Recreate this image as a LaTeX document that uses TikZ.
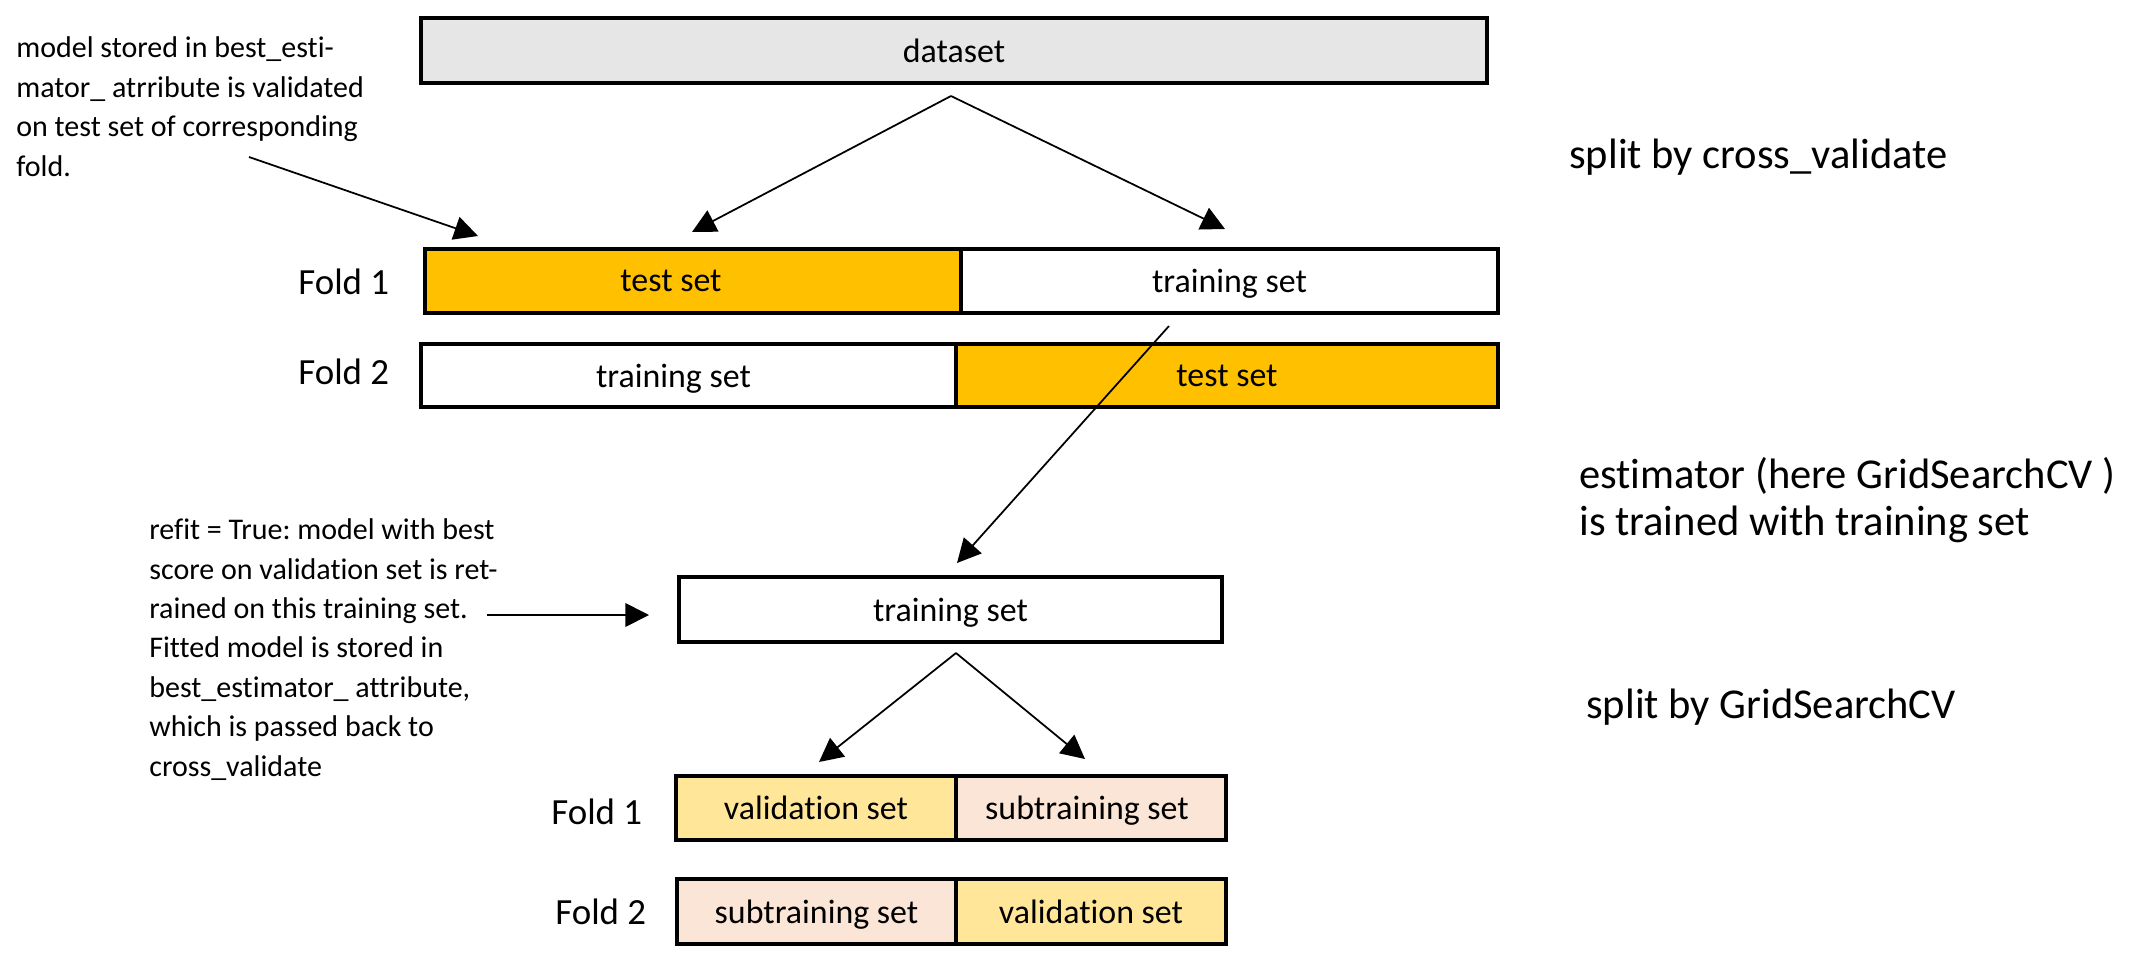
\documentclass[tikz,border=0pt]{standalone}
\usepackage{fontspec}
\setmainfont{Carlito}[Ligatures={NoCommon}]
\frenchspacing
\usetikzlibrary{arrows.meta}
\definecolor{dsgray}{HTML}{E6E6E6}
\definecolor{testorange}{HTML}{FFC000}
\definecolor{valyellow}{HTML}{FFE699}
\definecolor{subpeach}{HTML}{FBE5D6}
\tikzset{
  setbox/.style={draw=black, line width=1.9pt, inner sep=0pt, text depth=0pt, font=\fontsize{19.3}{23}\selectfont},
  foldlbl/.style={anchor=west, inner sep=0pt, font=\fontsize{21}{25}\selectfont},
  note/.style={anchor=base west, align=left, inner sep=0pt, font=\fontsize{17.07}{22.4}\selectfont},
  bignote/.style={anchor=base west, align=left, inner sep=0pt, font=\fontsize{24.2}{26.2}\selectfont},
  conn/.style={line width=1pt, -{Triangle[length=13.5pt,width=13.5pt]}},
}
\begin{document}
\begin{tikzpicture}[x=0.02cm,y=-0.02cm]
\path[use as bounding box] (0,0) rectangle (2129,964);
\fill[white] (0,0) rectangle (2129,964);

% top dataset box
\node[setbox, fill=dsgray, minimum width=21.32cm, minimum height=1.3cm] (dataset) at (954,50.5) {dataset};

% outer folds
\node[setbox, fill=testorange, minimum width=10.72cm, minimum height=1.28cm] (f1test) at (693,281) {\hspace*{-0.88cm}test set};
\node[setbox, fill=white, minimum width=10.74cm, minimum height=1.28cm] (f1train) at (1229.5,281) {training set};
\node[setbox, fill=white, minimum width=10.7cm, minimum height=1.26cm] (f2train) at (688.5,375.5) {\hspace*{-0.6cm}training set};
\node[setbox, fill=testorange, minimum width=10.84cm, minimum height=1.26cm] (f2test) at (1227,375.5) {test set};

\node[foldlbl] (fold1) at (298,282) {Fold 1};
\node[foldlbl] (fold2) at (298,372) {Fold 2};

% inner training set
\node[setbox, fill=white, minimum width=10.86cm, minimum height=1.3cm] (midtrain) at (950.5,609.5) {training set};

% inner folds
\node[setbox, fill=valyellow, minimum width=5.6cm, minimum height=1.28cm] (g1val) at (816,808) {validation set};
\node[setbox, fill=subpeach, minimum width=5.4cm, minimum height=1.28cm] (g1sub) at (1091,808) {\hspace*{-0.16cm}subtraining set};
\node[setbox, fill=subpeach, minimum width=5.58cm, minimum height=1.3cm] (g2sub) at (816.5,911.5) {subtraining set};
\node[setbox, fill=valyellow, minimum width=5.4cm, minimum height=1.3cm] (g2val) at (1091,911.5) {validation set};

\node[foldlbl] (gfold1) at (551,812) {Fold 1};
\node[foldlbl] (gfold2) at (555,912) {Fold 2};

% annotations (base anchor = baseline of the last line)
\node[note] (note1) at (16,176) {model stored in best\_esti-\\mator\_ atrribute is validated\\on test set of corresponding\\fold.};
\node[note] (note2) at (149,776) {refit = True: model with best\\score on validation set is ret-\\rained on this training set.\\Fitted model is stored in\\best\_estimator\_ attribute,\\which is passed back to\\cross\_validate};

\node[bignote] (r1) at (1569,168) {split by cross\_validate};
\node[bignote] (r2) at (1579,535) {estimator (here GridSearchCV )\\is trained with training set};
\node[bignote] (r3) at (1586,718) {split by GridSearchCV};

% connector end points
\coordinate (dsapex) at (951,96);
\coordinate (tipA) at (692,232);
\coordinate (tipB) at (1225,229);
\coordinate (n1start) at (249,157);
\coordinate (tipC) at (478,236);
\coordinate (trstart) at (1169,326);
\coordinate (tipD) at (957,563);
\coordinate (n2start) at (487,615);
\coordinate (tipE) at (649,615);
\coordinate (midapex) at (956,653);
\coordinate (tipF) at (819,762);
\coordinate (tipG) at (1085,759);

\draw[conn] (dsapex) -- (tipA);
\draw[conn] (dsapex) -- (tipB);
\draw[conn] (n1start) -- (tipC);
\draw[conn] (trstart) -- (tipD);
\draw[conn] (n2start) -- (tipE);
\draw[conn] (midapex) -- (tipF);
\draw[conn] (midapex) -- (tipG);
\end{tikzpicture}
\end{document}
